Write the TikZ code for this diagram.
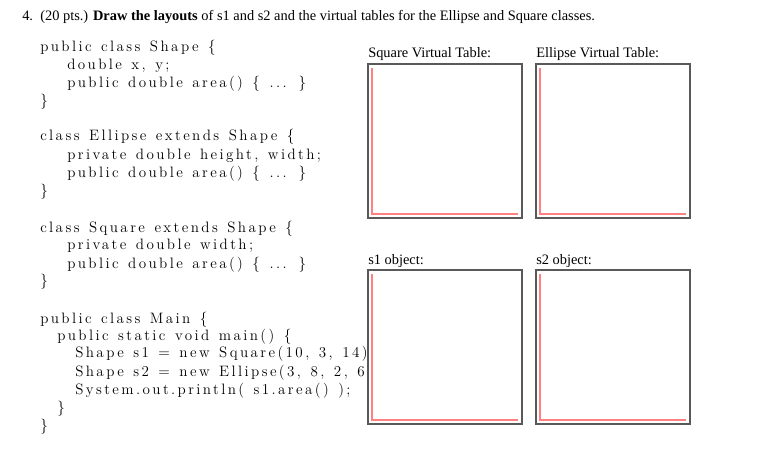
\documentclass[tikz,border=0pt]{standalone}
\usepackage{fontspec}
\setmainfont{Liberation Serif}
\newfontfamily\codefont[LetterSpace=16,WordSpace=1.3]{Latin Modern Roman}
\usetikzlibrary{positioning}

\begin{document}
\begin{tikzpicture}[x=0.75pt,y=-0.75pt,
  every node/.style={inner sep=0pt,anchor=base west},
  code/.style={font=\codefont\fontsize{11.3}{13}\selectfont},
  tablebox/.style={draw=gray!70!black,fill=white,line width=0.8pt},
  margin/.style={draw=red!50,line width=1.2pt}]
  \useasboundingbox (0,0) rectangle (769,460);

  % Question
  \node[font=\fontsize{10.8}{13}\selectfont] (q) at (22,21)
    {4.\ \ (20 pts.) \textbf{Draw the layouts} of s1 and s2 and the virtual tables for the Ellipse and Square classes.};

  % Code listing
  \foreach \x/\y/\t [count=\i] in {
    40/52/{public class Shape \{},
    67/70/{double x, y;},
    67/88/{public double area() \{ ... \}},
    40/106/{\}},
    40/141/{class Ellipse extends Shape \{},
    67/160/{private double height, width;},
    67/178/{public double area() \{ ... \}},
    40/196/{\}},
    40/233/{class Square extends Shape \{},
    67/250/{private double width;},
    67/268/{public double area() \{ ... \}},
    40/286/{\}},
    40/323/{public class Main \{},
    57/340/{public static void main() \{},
    75/358/{Shape s1 = new Square(10, 3, 14);},
    75/376/{Shape s2 = new Ellipse(3, 8, 2, 6);},
    75/394/{System.out.println( s1.area() );},
    57/412/{\}},
    40/430/{\}}} {
    \node[code] (line\i) at (\x,\y) {\t};
  }

  % Tables and objects
  \foreach \name/\x/\y/\t in {sq/368/64/{Square Virtual Table:},
      el/536/64/{Ellipse Virtual Table:},
      sa/368/270/{s1 object:}, sb/536/270/{s2 object:}} {
    \draw[tablebox] (\x,\y) rectangle ++(154,154);
    \node[font=\fontsize{10.8}{12}\selectfont] (\name) at (\x,{\y-6}) {\t};
    \draw[margin] (\x+4,\y+4) -- (\x+4,\y+150) -- (\x+150,\y+150);
  }
\end{tikzpicture}
\end{document}
